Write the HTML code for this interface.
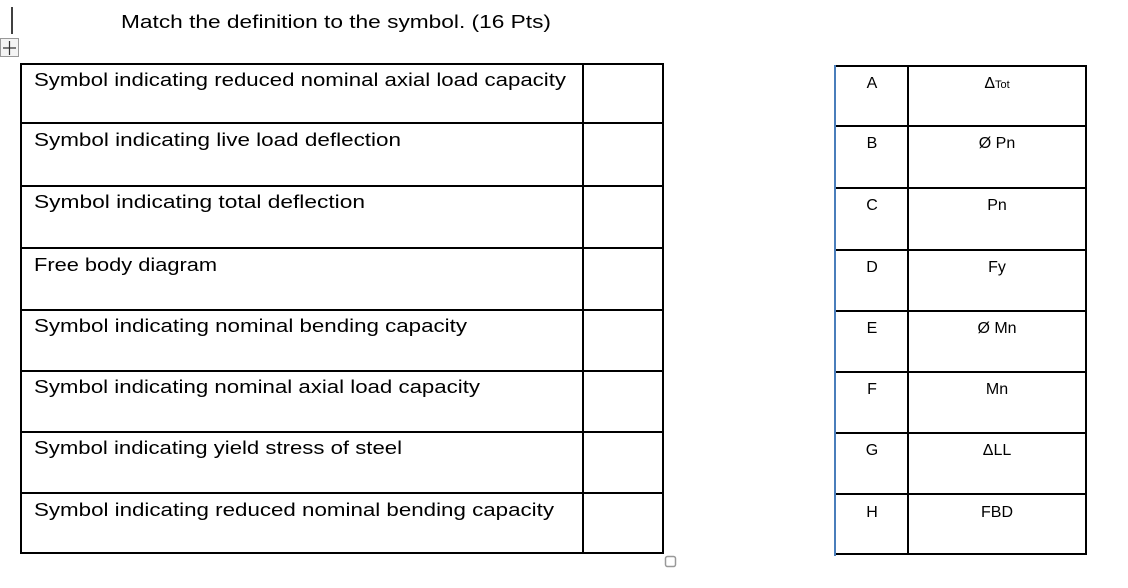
<!DOCTYPE html>
<html><head><meta charset="utf-8"><style>
html,body{margin:0;padding:0;background:#fff;}
svg{display:block;}
text{font-family:"Liberation Sans",sans-serif;fill:#000;}
</style></head><body>
<svg width="1128" height="588" viewBox="0 0 1128 588" xmlns="http://www.w3.org/2000/svg">
<!-- cursor marks -->
<line x1="12" y1="7" x2="12" y2="34" stroke="#000" stroke-width="1.5"/>
<rect x="0.5" y="38.5" width="18" height="18" fill="#f4f4f4" stroke="#999" stroke-width="1"/>
<path d="M3 48h13M9.5 41v14" stroke="#333" stroke-width="1.2"/>
<rect x="665.5" y="556.5" width="10" height="10" rx="2" fill="#fff" stroke="#999" stroke-width="1.5"/>
<text x="121" y="28" font-size="18.5" textLength="430" lengthAdjust="spacingAndGlyphs">Match the definition to the symbol. (16 Pts)</text>
<!-- left table -->
<g stroke="#000" stroke-width="2" fill="none">
<rect x="21" y="64" width="642" height="489"/>
<line x1="583" y1="64" x2="583" y2="553"/>
<line x1="21" y1="123" x2="663" y2="123"/>
<line x1="21" y1="186" x2="663" y2="186"/>
<line x1="21" y1="248" x2="663" y2="248"/>
<line x1="21" y1="310" x2="663" y2="310"/>
<line x1="21" y1="371" x2="663" y2="371"/>
<line x1="21" y1="432" x2="663" y2="432"/>
<line x1="21" y1="493" x2="663" y2="493"/>
</g>
<g font-size="18.5" lengthAdjust="spacingAndGlyphs">
<text x="34" y="86" textLength="532" lengthAdjust="spacingAndGlyphs">Symbol indicating reduced nominal axial load capacity</text>
<text x="34" y="146" textLength="367" lengthAdjust="spacingAndGlyphs">Symbol indicating live load deflection</text>
<text x="34" y="208" textLength="331" lengthAdjust="spacingAndGlyphs">Symbol indicating total deflection</text>
<text x="34" y="271" textLength="183" lengthAdjust="spacingAndGlyphs">Free body diagram</text>
<text x="34" y="332" textLength="433" lengthAdjust="spacingAndGlyphs">Symbol indicating nominal bending capacity</text>
<text x="34" y="393" textLength="446" lengthAdjust="spacingAndGlyphs">Symbol indicating nominal axial load capacity</text>
<text x="34" y="454" textLength="368" lengthAdjust="spacingAndGlyphs">Symbol indicating yield stress of steel</text>
<text x="34" y="516" textLength="520" lengthAdjust="spacingAndGlyphs">Symbol indicating reduced nominal bending capacity</text>
</g>
<!-- right table -->
<g stroke="#000" stroke-width="2" fill="none">
<rect x="835" y="66" width="251" height="488"/>
<line x1="908" y1="66" x2="908" y2="554"/>
<line x1="835" y1="126" x2="1086" y2="126"/>
<line x1="835" y1="188" x2="1086" y2="188"/>
<line x1="835" y1="250" x2="1086" y2="250"/>
<line x1="835" y1="311" x2="1086" y2="311"/>
<line x1="835" y1="372" x2="1086" y2="372"/>
<line x1="835" y1="433" x2="1086" y2="433"/>
<line x1="835" y1="494" x2="1086" y2="494"/>
</g>
<line x1="835" y1="65" x2="835" y2="556" stroke="#4a7ebb" stroke-width="2"/>
<g font-size="16" text-anchor="middle">
<text x="872" y="88">A</text><text x="872" y="148">B</text><text x="872" y="210">C</text><text x="872" y="272">D</text>
<text x="872" y="333">E</text><text x="872" y="394">F</text><text x="872" y="455">G</text><text x="872" y="517">H</text>
<text x="997" y="88">Δ<tspan font-size="11">Tot</tspan></text>
<text x="997" y="148">Ø Pn</text>
<text x="997" y="210">Pn</text>
<text x="997" y="272">Fy</text>
<text x="997" y="333">Ø Mn</text>
<text x="997" y="394">Mn</text>
<text x="997" y="455">ΔLL</text>
<text x="997" y="517">FBD</text>
</g>
</svg>
</body></html>
